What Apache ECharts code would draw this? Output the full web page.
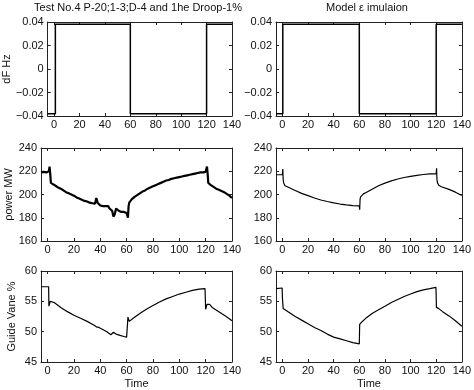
<!DOCTYPE html>
<html><head><meta charset="utf-8">
<script src="https://cdn.jsdelivr.net/npm/echarts@6/dist/echarts.min.js"></script>
<style>html,body{margin:0;padding:0;background:#fff}#c{width:474px;height:390px}</style>
</head><body><div id="c"></div>
<script>
const titleLeft = 'Test No.4 P-20;1-3;D-4 and 1he Droop-1%';
const titleRight = 'Model ε imulaion';
const yNames = ['dF Hz', 'ρower MW', 'Guide Vane %'];
const xName = 'Time';
const xTicks = [0, 20, 40, 60, 80, 100, 120, 140];

const dfExpT = [-5, 1, 1, 60, 60, 120, 120, 140];
const dfExpV = [-0.038, -0.038, 0.038, 0.038, -0.038, -0.038, 0.038, 0.038];
const dfModT = [-5, 0.3, 0.3, 60, 60, 120, 120, 140];
const dfModV = [-0.038, -0.038, 0.038, 0.038, -0.038, -0.038, 0.038, 0.038];

const pExpT = [-5,-3,-1,0,1,1.5,2,2.5,4,6,8,10,12,14,16,18,20,22,24,26,28,30,32,34,36,37,38,40,42,44,46,47,48,49,50,51,52,53,54,56,58,60,61,61.5,62,64,66,68,70,72,74,76,78,80,82,84,86,88,90,92,94,96,98,100,102,104,106,108,110,112,114,116,118,120,121,121.5,122,124,126,128,130,132,134,136,138,140];
const pExpV = [219,219.5,219,219.5,220,224,218,210,209,207.5,206,205,203.5,202,201,200,199,197.5,196.5,195.5,194.5,194,193,192.5,192,197,193,190.5,190,190,190,188,189,186,181,183,188,188,186,185,185,184,180,190,193,196,198,199.5,201,202.5,203.5,205,206,207,208,209,210,211,212,212.5,213.5,214,214.5,215,215.5,216,216.5,217,217.5,218,218.5,219,219,219.5,224,218,210,208,206.5,205,204,203,202,200.5,199,197];

const pModT = [-5,0,0.3,0.6,1,2,3,5,10,15,20,25,30,35,40,45,50,55,60,60.3,60.6,61,62,63,65,70,75,80,85,90,95,100,105,110,115,120,120.3,120.6,121,122,124,130,135,140];
const pModV = [217,217,222,213,210,207.5,206.8,206,203.5,201,199,197,195.3,194,192.8,191.8,191,190.5,190.2,187,196,198,199.5,200.3,201.5,204.5,207.5,209.8,211.7,213.3,214.6,215.6,216.5,217.2,217.7,218,222.5,213,210,208,206.7,204.4,202,199.2];

const gExpT = [-5,0.8,1,1.5,2,3,5,10,15,20,25,30,35,37,38,39,40,45,48,49,50,51,52,55,58,60,60.8,61,62,63,65,70,75,80,85,90,95,100,105,110,115,119.5,120,121,122,123,125,130,135,140];
const gExpV = [57.4,57.4,54.2,54.6,55.0,55.1,54.8,54.0,53.3,52.7,52.2,51.7,51.1,50.8,50.6,50.7,50.5,50.0,49.5,49.6,49.9,49.8,49.6,49.4,49.2,49.1,49.1,52.4,51.7,51.8,52.2,53.0,53.7,54.3,54.9,55.4,55.8,56.2,56.5,56.8,57.0,57.1,53.7,54.5,54.6,54.5,54.0,53.3,52.6,51.8];

const gModT = [-5,-0.2,0,0.4,0.6,1,5,10,15,20,25,30,35,40,45,50,55,60,60.3,62,65,70,75,80,85,90,95,100,105,110,115,119.8,120.2,122,125,130,135,140];
const gModV = [57.1,57.2,55.6,55.5,53.8,53.8,53.2,52.5,51.9,51.3,50.7,50.2,49.6,49.1,48.8,48.5,48.2,48.0,51.2,51.6,52.2,53.0,53.6,54.2,54.8,55.3,55.8,56.2,56.6,56.9,57.1,57.3,54.0,53.8,53.3,52.6,51.8,50.9];

const yRanges = [[-0.04, 0.04, 0.02], [160, 240, 20], [45, 60, 5]];

function pair(t, v) { return t.map((x, i) => [x, v[i]]); }
const seriesData = [
  [pair(dfExpT, dfExpV), pair(dfModT, dfModV)],
  [pair(pExpT, pExpV), pair(pModT, pModV)],
  [pair(gExpT, gExpV), pair(gModT, gModV)]
];

const font = 'Liberation Sans, Arial, sans-serif';
const tops = [22, 148, 271];
const heights = [94, 93, 93];
const lefts = [41, 276];
const widths = [191, 190];

const grid = [], xAxis = [], yAxis = [], series = [];
const lineCol = '#222';
for (let r = 0; r < 3; r++) {
  for (let c = 0; c < 2; c++) {
    const gi = grid.length;
    grid.push({ left: lefts[c], top: tops[r], width: widths[c], height: heights[r] });
    const [ymin, ymax, yint] = yRanges[r];
    const fmt = v => {
      if (r === 0) { if (Math.abs(v) < 1e-9) return '0'; return (v < 0 ? '\u22120' : '0') + '.0' + Math.round(Math.abs(v) * 100); }
      return String(v);
    };
    const xb = xAxis.length;
    xAxis.push({
      type: 'value', gridIndex: gi, min: -5, max: 140, position: 'bottom',
      splitLine: { show: false },
      axisLine: { show: true, onZero: false, lineStyle: { color: lineCol, width: 1 } },
      axisTick: { show: true, inside: true, length: 3, customValues: xTicks, lineStyle: { color: lineCol } },
      axisLabel: { show: true, customValues: xTicks, color: '#111', fontSize: 11, fontFamily: font, margin: 3 },
      name: r === 2 ? xName : '', nameLocation: 'middle', nameGap: 16,
      nameTextStyle: { color: '#111', fontSize: 11, fontFamily: font }
    });
    xAxis.push({
      type: 'value', gridIndex: gi, min: -5, max: 140, position: 'top',
      splitLine: { show: false },
      axisLine: { show: true, onZero: false, lineStyle: { color: lineCol, width: 1 } },
      axisTick: { show: true, inside: true, length: 3, customValues: xTicks, lineStyle: { color: lineCol } },
      axisLabel: { show: false }
    });
    const yl = yAxis.length;
    yAxis.push({
      type: 'value', gridIndex: gi, min: ymin, max: ymax, interval: yint, position: 'left',
      splitLine: { show: false },
      axisLine: { show: true, onZero: false, lineStyle: { color: lineCol, width: 1 } },
      axisTick: { show: true, inside: true, length: 3, lineStyle: { color: lineCol } },
      axisLabel: { color: '#111', fontSize: 11, fontFamily: font, margin: 4, formatter: fmt },
      name: c === 0 ? yNames[r] : '', nameLocation: 'middle', nameGap: 24, nameRotate: 90,
      nameTextStyle: { color: '#111', fontSize: 11, fontFamily: font }
    });
    yAxis.push({
      type: 'value', gridIndex: gi, min: ymin, max: ymax, interval: yint, position: 'right',
      splitLine: { show: false },
      axisLine: { show: true, onZero: false, lineStyle: { color: lineCol, width: 1 } },
      axisTick: { show: true, inside: true, length: 3, lineStyle: { color: lineCol } },
      axisLabel: { show: false }
    });
    series.push({
      type: 'line', xAxisIndex: xb, yAxisIndex: yl, data: seriesData[r][c],
      showSymbol: false, symbol: 'none', animation: false, clip: true,
      lineStyle: { color: '#000', width: (r === 1 && c === 0) ? 2.2 : (r === 0 ? 1.5 : 1.2) }
    });
  }
}

const chart = echarts.init(document.getElementById('c'), null, { renderer: 'canvas' });
chart.setOption({
  backgroundColor: '#fff',
  animation: false,
  title: [
    { text: titleLeft, left: 133, top: -3, textAlign: 'center', textStyle: { fontSize: 11, fontWeight: 'normal', color: '#111', fontFamily: font } },
    { text: titleRight, left: 362, top: -3, textAlign: 'center', textStyle: { fontSize: 11, fontWeight: 'normal', color: '#111', fontFamily: font } }
  ],
  grid, xAxis, yAxis, series
});
</script>
</body></html>
